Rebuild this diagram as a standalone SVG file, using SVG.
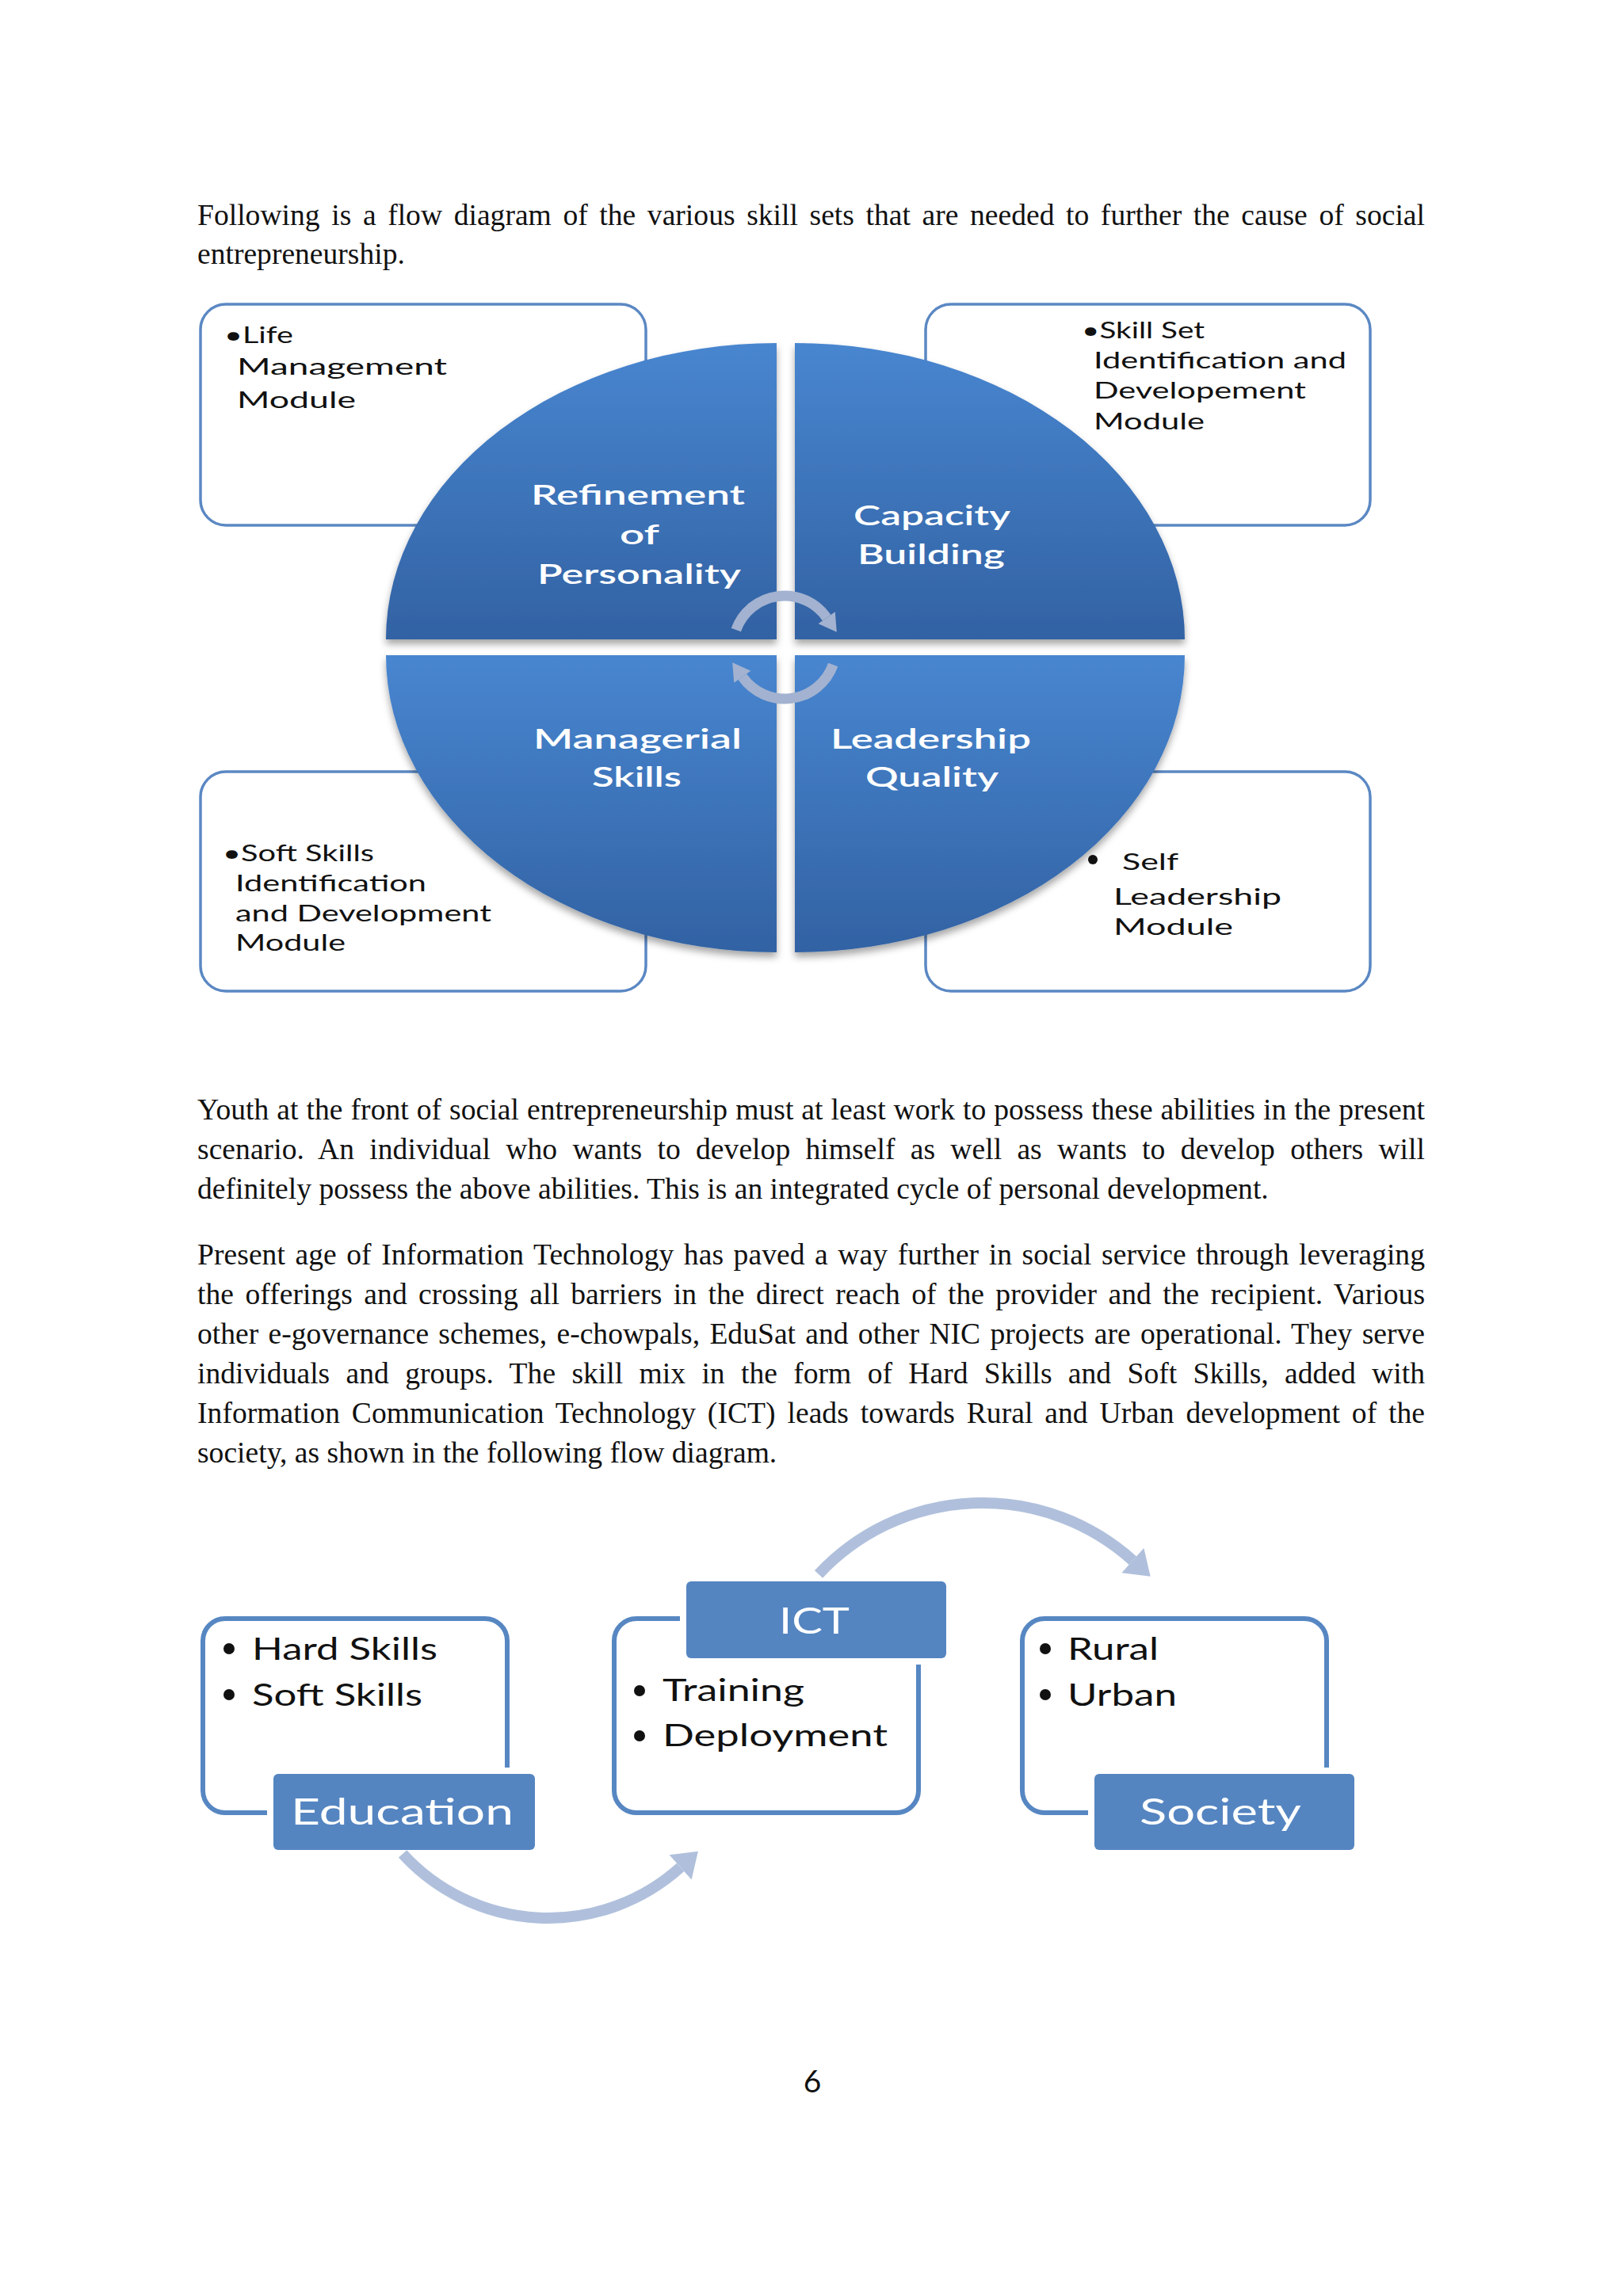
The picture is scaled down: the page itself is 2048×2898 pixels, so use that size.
<svg xmlns="http://www.w3.org/2000/svg" width="2048" height="2898" viewBox="0 0 2048 2898">
<defs>
<style>
.body{font-family:"Liberation Serif","Times New Roman",serif;font-size:37.6px;fill:#111}
.box{fill:#fff;stroke:#5B88C3;stroke-width:3.5}
.bt{font-family:Lato,"Open Sans",sans-serif;font-size:28px;fill:#111}
.qt{font-family:Lato,"Open Sans",sans-serif;font-size:34px;font-weight:600;fill:#fff}
.ob{fill:#fff;stroke:#5787C2;stroke-width:6}
.lb{fill:#5585C1}
.lt{font-family:Lato,"Open Sans",sans-serif;font-size:47px;fill:#fff}
.li{font-family:Lato,"Open Sans",sans-serif;font-size:38px;fill:#111}
.cyc{fill:none;stroke:#A2B2D0;stroke-width:13}
.cych{fill:#A2B2D0}
.flow{fill:none;stroke:#B0C0DC;stroke-width:14}
.flowh{fill:#B0C0DC}
</style>
<linearGradient id="qg" x1="0" y1="0" x2="0" y2="1">
<stop offset="0" stop-color="#4886D0"/>
<stop offset="1" stop-color="#3262A3"/>
</linearGradient>
<filter id="sh" x="-10%" y="-10%" width="120%" height="125%">
<feDropShadow dx="0" dy="6" stdDeviation="5" flood-color="#000" flood-opacity="0.35"/>
</filter>
</defs>
<rect width="2048" height="2898" fill="#fff"/>

<g id="para1" class="body">
<text x="249" y="284" word-spacing="5.18" textLength="1549" lengthAdjust="spacing">Following is a flow diagram of the various skill sets that are needed to further the cause of social</text>
<text x="249" y="333">entrepreneurship.</text>
</g>

<g id="box-life">
<rect class="box" x="253" y="384" width="562" height="279" rx="32"/>
<g class="bt">
<text x="283" y="433" textLength="87" lengthAdjust="spacingAndGlyphs">•Life</text>
<text x="299" y="473" textLength="265" lengthAdjust="spacingAndGlyphs">Management</text>
<text x="299" y="515" textLength="150" lengthAdjust="spacingAndGlyphs">Module</text>
</g>
</g>
<g id="box-skillset">
<rect class="box" x="1168" y="384" width="561" height="279" rx="32"/>
<g class="bt">
<text x="1365" y="427" textLength="155" lengthAdjust="spacingAndGlyphs">•Skill Set</text>
<text x="1380" y="465" textLength="319" lengthAdjust="spacingAndGlyphs">Identification and</text>
<text x="1380" y="503" textLength="268" lengthAdjust="spacingAndGlyphs">Developement</text>
<text x="1380" y="542" textLength="140" lengthAdjust="spacingAndGlyphs">Module</text>
</g>
</g>
<g id="box-softskills">
<rect class="box" x="253" y="974" width="562" height="277" rx="32"/>
<g class="bt">
<text x="281" y="1087" textLength="191" lengthAdjust="spacingAndGlyphs">•Soft Skills</text>
<text x="297" y="1125" textLength="241" lengthAdjust="spacingAndGlyphs">Identification</text>
<text x="297" y="1163" textLength="323" lengthAdjust="spacingAndGlyphs">and Development</text>
<text x="297" y="1200" textLength="139" lengthAdjust="spacingAndGlyphs">Module</text>
</g>
</g>
<g id="box-selfleadership">
<rect class="box" x="1168" y="974" width="561" height="277" rx="32"/>
<circle cx="1379" cy="1085" r="6" fill="#111"/>
<g class="bt">
<text x="1416" y="1098" textLength="71" lengthAdjust="spacingAndGlyphs">Self</text>
<text x="1405" y="1142" textLength="212" lengthAdjust="spacingAndGlyphs">Leadership</text>
<text x="1405" y="1180" textLength="151" lengthAdjust="spacingAndGlyphs">Module</text>
</g>
</g>

<g id="quad-refinement">
<path d="M980 807 L487 807 A493 374 0 0 1 980 433 Z" fill="url(#qg)" filter="url(#sh)"/>
<g class="qt">
<text x="670" y="637" textLength="270" lengthAdjust="spacingAndGlyphs">Refinement</text>
<text x="782" y="687" textLength="50" lengthAdjust="spacingAndGlyphs">of</text>
<text x="678" y="737" textLength="257" lengthAdjust="spacingAndGlyphs">Personality</text>
</g>
</g>
<g id="quad-capacity">
<path d="M1003 807 L1003 433 A492 374 0 0 1 1495 807 Z" fill="url(#qg)" filter="url(#sh)"/>
<g class="qt">
<text x="1077" y="663" textLength="198" lengthAdjust="spacingAndGlyphs">Capacity</text>
<text x="1082" y="712" textLength="186" lengthAdjust="spacingAndGlyphs">Building</text>
</g>
</g>
<g id="quad-managerial">
<path d="M980 827 L487 827 A493 375 0 0 0 980 1202 Z" fill="url(#qg)" filter="url(#sh)"/>
<g class="qt">
<text x="673" y="945" textLength="263" lengthAdjust="spacingAndGlyphs">Managerial</text>
<text x="747" y="993" textLength="113" lengthAdjust="spacingAndGlyphs">Skills</text>
</g>
</g>
<g id="quad-leadership">
<path d="M1003 827 L1495 827 A492 375 0 0 1 1003 1202 Z" fill="url(#qg)" filter="url(#sh)"/>
<g class="qt">
<text x="1048" y="945" textLength="253" lengthAdjust="spacingAndGlyphs">Leadership</text>
<text x="1092" y="993" textLength="168" lengthAdjust="spacingAndGlyphs">Quality</text>
</g>
</g>

<g id="cycle-connectors">
<path class="cyc" d="M928.8 795 A65 65 0 0 1 1043.2 779.7"/>
<polygon class="cych" points="1053.8,772.2 1055.8,797.7 1032.6,787.2"/>
<path class="cyc" d="M1051.2 839 A65 65 0 0 1 936.8 854.3"/>
<polygon class="cych" points="926.2,861.8 924.2,836.3 947.4,846.8"/>
</g>

<g id="para2" class="body">
<text x="249" y="1413" word-spacing="0.5" textLength="1549" lengthAdjust="spacing">Youth at the front of social entrepreneurship must at least work to possess these abilities in the present</text>
<text x="249" y="1463" word-spacing="9.83" textLength="1549" lengthAdjust="spacing">scenario. An individual who wants to develop himself as well as wants to develop others will</text>
<text x="249" y="1513">definitely possess the above abilities. This is an integrated cycle of personal development.</text>
</g>
<g id="para3" class="body">
<text x="249" y="1596" word-spacing="3.09" textLength="1549" lengthAdjust="spacing">Present age of Information Technology has paved a way further in social service through leveraging</text>
<text x="249" y="1646" word-spacing="4.86" textLength="1549" lengthAdjust="spacing">the offerings and crossing all barriers in the direct reach of the provider and the recipient. Various</text>
<text x="249" y="1696" word-spacing="2.83" textLength="1549" lengthAdjust="spacing">other e-governance schemes, e-chowpals, EduSat and other NIC projects are operational. They serve</text>
<text x="249" y="1746" word-spacing="10.9" textLength="1549" lengthAdjust="spacing">individuals and groups. The skill mix in the form of Hard Skills and Soft Skills, added with</text>
<text x="249" y="1796" word-spacing="5.35" textLength="1549" lengthAdjust="spacing">Information Communication Technology (ICT) leads towards Rural and Urban development of the</text>
<text x="249" y="1846">society, as shown in the following flow diagram.</text>
</g>

<g id="flow-diagram" transform="translate(0,-15)">
<g id="node-education">
<rect class="ob" x="256" y="2058" width="384" height="245" rx="28"/>
<circle cx="289" cy="2096" r="7" fill="#111"/>
<circle cx="289" cy="2154" r="7" fill="#111"/>
<text class="li" x="318" y="2110" textLength="234" lengthAdjust="spacingAndGlyphs">Hard Skills</text>
<text class="li" x="318" y="2168" textLength="215" lengthAdjust="spacingAndGlyphs">Soft Skills</text>
<rect x="337" y="2246" width="346" height="112" fill="#fff"/>
<rect class="lb" x="345" y="2254" width="330" height="96" rx="6"/>
<text class="lt" x="367" y="2318" textLength="281" lengthAdjust="spacingAndGlyphs">Education</text>
</g>
<g id="node-ict">
<rect class="ob" x="775" y="2058" width="384" height="245" rx="28"/>
<rect x="858" y="2003" width="344" height="113" fill="#fff"/>
<rect class="lb" x="866" y="2011" width="328" height="97" rx="6"/>
<text class="lt" x="983" y="2077" textLength="89" lengthAdjust="spacingAndGlyphs">ICT</text>
<circle cx="807" cy="2149" r="7" fill="#111"/>
<circle cx="807" cy="2206" r="7" fill="#111"/>
<text class="li" x="836" y="2162" textLength="179" lengthAdjust="spacingAndGlyphs">Training</text>
<text class="li" x="836" y="2219" textLength="284" lengthAdjust="spacingAndGlyphs">Deployment</text>
</g>
<g id="node-society">
<rect class="ob" x="1290" y="2058" width="384" height="245" rx="28"/>
<circle cx="1319" cy="2096" r="7" fill="#111"/>
<circle cx="1319" cy="2154" r="7" fill="#111"/>
<text class="li" x="1347" y="2110" textLength="115" lengthAdjust="spacingAndGlyphs">Rural</text>
<text class="li" x="1347" y="2168" textLength="138" lengthAdjust="spacingAndGlyphs">Urban</text>
<rect x="1373" y="2246" width="344" height="112" fill="#fff"/>
<rect class="lb" x="1381" y="2254" width="328" height="96" rx="6"/>
<text class="lt" x="1438" y="2318" textLength="204" lengthAdjust="spacingAndGlyphs">Society</text>
</g>

<g id="flow-connectors">
<path class="flow" d="M508.1 2354.9 A249 249 0 0 0 858.6 2371.9"/>
<polygon class="flowh" points="872.6,2387.5 880.9,2351.8 844.6,2356.3"/>
<path class="flow" d="M1033 2002 A283 283 0 0 1 1429.4 1984.7"/>
<polygon class="flowh" points="1443.4,1969.1 1451.7,2004.8 1415.4,2000.3"/>
</g>
</g>

<text id="page-number" x="1025" y="2641" text-anchor="middle" font-family="Lato,'Open Sans',sans-serif" font-size="39" fill="#111">6</text>
</svg>
